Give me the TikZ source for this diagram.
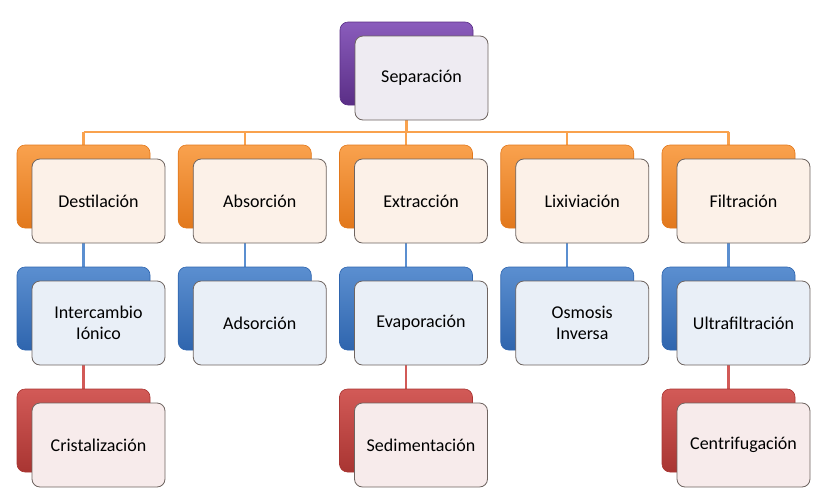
\documentclass[tikz,border=0pt]{standalone}
\usepackage{fontspec}
\setmainfont{Carlito}
\usetikzlibrary{backgrounds}
\definecolor{cpur}{HTML}{8A5CBC}\definecolor{cpurD}{HTML}{5A2E86}\definecolor{tpur}{HTML}{EEEBF2}
\definecolor{cora}{HTML}{F9A24E}\definecolor{coraD}{HTML}{E2781C}\definecolor{tora}{HTML}{FCF1E8}
\definecolor{cblu}{HTML}{5B8FD0}\definecolor{cbluD}{HTML}{2F65AE}\definecolor{tblu}{HTML}{E9EFF7}
\definecolor{cred}{HTML}{D25A57}\definecolor{credD}{HTML}{A93532}\definecolor{tred}{HTML}{F7EBEB}
\definecolor{edgeg}{HTML}{6E6460}
\tikzset{
 backbox/.style={minimum width=133pt,minimum height=83pt,rounded corners=8pt,anchor=north west,inner sep=0pt,outer sep=0pt,draw=#1D,top color=#1,bottom color=#1D,line width=0.6pt},
 frontbox/.style={minimum width=133pt,minimum height=84pt,rounded corners=8pt,anchor=north west,inner sep=0pt,outer sep=0pt,draw=edgeg,fill=#1,line width=0.8pt,font=\fontsize{18}{21}\selectfont,align=center,text=black},
 conn/.style={line width=2.2pt,draw=#1}
}
\newcommand{\mypair}[6]{%
 \node[backbox=#4] (#1b) at (#2pt,-#3pt) {};
 \node[frontbox=#5] (#1) at ({#2pt+15pt},{-#3pt-14pt}) {#6};
}
\begin{document}
\begin{tikzpicture}[x=1pt,y=1pt]
\useasboundingbox (0,0) rectangle (815,-504);
\mypair{sep}{340}{22}{cpur}{tpur}{Separación}
\foreach \i/\n/\a/\b/\c in {0/c1/Destilación/Intercambio\\Iónico/Cristalización,
                              1/c2/Absorción/Adsorción/,
                              2/c3/Extracción/Evaporación/Sedimentación,
                              3/c4/Lixiviación/Osmosis\\Inversa/,
                              4/c5/Filtración/Ultrafiltración/Centrifugación}{
  \pgfmathsetmacro{\xx}{17+\i*161.25}
  \mypair{\n a}{\xx}{145}{cora}{tora}{\a}
  \mypair{\n b}{\xx}{267}{cblu}{tblu}{\b}
}
\mypair{c1c}{17}{389}{cred}{tred}{Cristalización}
\mypair{c3c}{339.5}{389}{cred}{tred}{Sedimentación}
\mypair{c5c}{662}{389}{cred}{tred}{Centrifugación}
\begin{scope}[on background layer]
 \coordinate (bus) at (0,-132);
 \draw[conn=cora] (sepb.center) -- (sepb.center |- bus);
 \draw[conn=cora] (c1ab.north |- bus) -- (c5ab.north |- bus);
 \foreach \n in {c1,c2,c3,c4,c5}{
   \draw[conn=cora] (\n ab.north |- bus) -- (\n ab.center);
   \draw[conn=cblu] (\n ab.center) -- (\n bb.center);
 }
 \draw[conn=cred] (c1bb.center) -- (c1cb.center);
 \draw[conn=cred] (c3bb.center) -- (c3cb.center);
 \draw[conn=cred] (c5bb.center) -- (c5cb.center);
\end{scope}
\end{tikzpicture}
\end{document}
